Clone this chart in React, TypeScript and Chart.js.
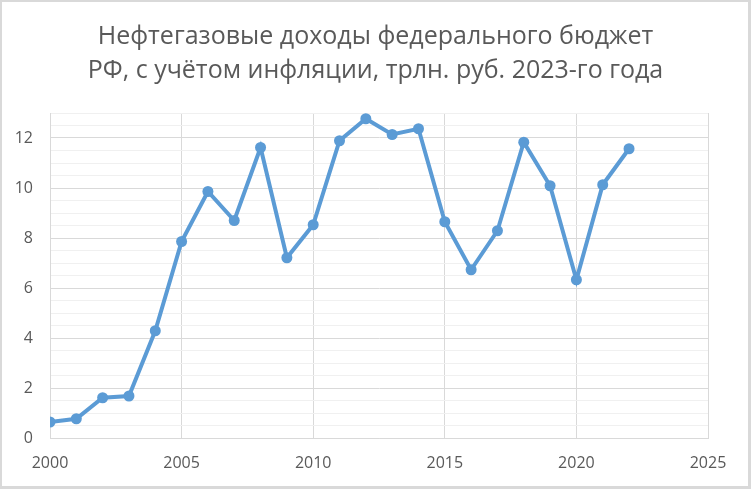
import React, { useEffect, useRef } from "react";
import { Chart, registerables } from "chart.js";

Chart.register(...registerables);

const TITLE_LINES = [
  "Нефтегазовые доходы федерального бюджет",
  "РФ, с учётом инфляции, трлн. руб. 2023-го года",
];
const YEARS = [
  2000, 2001, 2002, 2003, 2004, 2005, 2006, 2007, 2008, 2009, 2010, 2011,
  2012, 2013, 2014, 2015, 2016, 2017, 2018, 2019, 2020, 2021, 2022,
];
const REVENUE = [
  0.64, 0.77, 1.61, 1.68, 4.29, 7.86, 9.86, 8.7, 11.62, 7.21, 8.53, 11.89,
  12.77, 12.14, 12.37, 8.65, 6.73, 8.29, 11.83, 10.09, 6.33, 10.13, 11.57,
];
const Y_MAJOR_TICKS = [0, 2, 4, 6, 8, 10, 12];
const X_TICKS = [2000, 2005, 2010, 2015, 2020, 2025];

const FONT = "'Open Sans', 'Noto Sans', sans-serif";
const TEXT = "#595959";

const frame = {
  id: "frame",
  afterDraw(chart: any) {
    const { ctx, width, height } = chart;
    ctx.save();
    ctx.fillStyle = "#d9d9d9";
    ctx.fillRect(0, 0, width, 2);
    ctx.fillRect(0, 0, 2, height);
    ctx.fillRect(width - 3, 0, 3, height);
    ctx.fillRect(0, height - 3, width, 3);
    ctx.restore();
  },
};

export default function App() {
  const ref = useRef<HTMLCanvasElement | null>(null);
  useEffect(() => {
    if (!ref.current) return;
    const chart = new Chart(ref.current, {
      type: "line",
      data: {
        datasets: [
          {
            data: YEARS.map((y, i) => ({ x: y, y: REVENUE[i] })),
            borderColor: "#5b9bd5",
            backgroundColor: "#5b9bd5",
            borderWidth: 4,
            pointRadius: 5.5,
            pointBorderWidth: 0,
            pointBackgroundColor: "#5b9bd5",
            tension: 0,
          },
        ],
      },
      options: {
        animation: false,
        responsive: false,
        layout: { padding: 0 },
        plugins: {
          legend: { display: false },
          tooltip: { enabled: false },
          title: {
            display: true,
            text: TITLE_LINES,
            color: TEXT,
            font: { family: FONT, size: 25, weight: "normal", lineHeight: "34px" },
            padding: { top: 20, bottom: 25 },
          },
        },
        scales: {
          x: {
            type: "linear",
            min: 2000,
            max: 2025,
            afterBuildTicks: (s: any) => {
              s.ticks = X_TICKS.map((v) => ({ value: v }));
            },
            afterFit: (s: any) => {
              s.height = 51;
            },
            ticks: {
              color: TEXT,
              font: { family: FONT, size: 16 },
              padding: 16,
              maxRotation: 0,
              callback: (v: any) => String(v),
            },
            grid: { color: "#d9d9d9", drawTicks: false },
            border: { color: "#d9d9d9" },
          },
          y2: {
            position: "left",
            min: 0,
            max: 13,
            ticks: { display: false, stepSize: 0.5 },
            afterFit: (s: any) => {
              s.width = 0;
            },
            grid: {
              drawTicks: false,
              color: (c: any) =>
                c.tick && c.tick.value % 2 === 0 ? "rgba(0,0,0,0)" : "#f0f0f0",
            },
            border: { display: false },
          },
          yr: {
            position: "right",
            min: 0,
            max: 13,
            ticks: { display: false },
            grid: { display: false, drawTicks: false },
            border: { display: false },
            afterFit: (s: any) => {
              s.width = 43;
            },
          },
          y: {
            position: "left",
            min: 0,
            max: 13,
            afterBuildTicks: (s: any) => {
              s.ticks = Y_MAJOR_TICKS.map((v) => ({ value: v }));
            },
            afterFit: (s: any) => {
              s.width = 50;
            },
            ticks: {
              color: TEXT,
              font: { family: FONT, size: 16 },
              padding: 17,
            },
            grid: { color: "#d9d9d9", drawTicks: false },
            border: { color: "#d9d9d9" },
          },
        },
      },
      plugins: [frame],
    } as any);
    return () => chart.destroy();
  }, []);
  return (
    <div style={{ position: "absolute", left: 0, top: 0, width: 751, height: 489, background: "#fff" }}>
      <canvas ref={ref} width={751} height={489} style={{ display: "block" }} />
    </div>
  );
}
